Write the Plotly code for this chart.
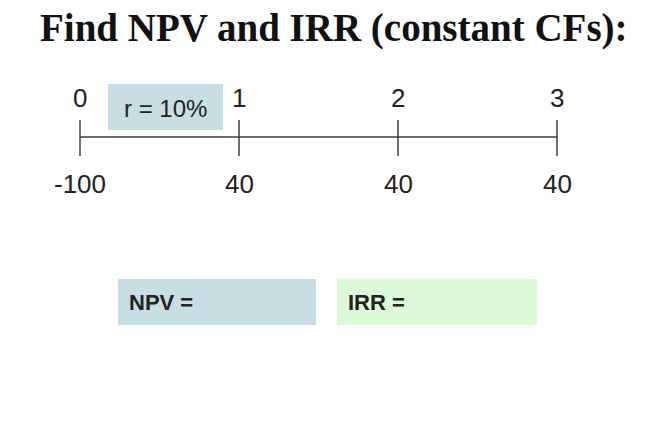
import plotly.graph_objects as go

periods = [0, 1, 2, 3]
cash_flows = [-100, 40, 40, 40]
rate_label = "r = 10%"
title = "Find NPV and IRR (constant CFs):"

W, H = 662, 434
x0px, step = 80, 159
OFF = 8
def px(v):  # pixel -> data x
    return (v - x0px) / step

fig = go.Figure()
fig.add_trace(go.Scatter(x=[periods[0], periods[-1]], y=[137, 137], mode="lines",
                         line=dict(color="#404040", width=1.5), hoverinfo="skip"))
for p, cf in zip(periods, cash_flows):
    fig.add_shape(type="line", x0=p, x1=p, y0=120, y1=156, line=dict(color="#404040", width=1.5))
    fig.add_annotation(x=p, y=98, text=str(p), showarrow=False,
                       font=dict(family="Liberation Sans", size=26, color="#222"))
    fig.add_annotation(x=p, y=184, text=str(cf), showarrow=False,
                       font=dict(family="Liberation Sans", size=26, color="#222"))

fig.add_shape(type="rect", x0=px(108), x1=px(223), y0=84, y1=130, fillcolor="#c7dfe2",
              line=dict(width=0), layer="below")
fig.add_annotation(x=px(165), y=108, text=rate_label, showarrow=False,
                   font=dict(family="Liberation Sans", size=24, color="#222"))

fig.add_shape(type="rect", x0=px(118), x1=px(316), y0=279, y1=325, fillcolor="#c7dfe2",
              line=dict(width=0), layer="below")
fig.add_annotation(x=px(127), y=302, text="<b>NPV =</b>", showarrow=False, xanchor="left",
                   font=dict(family="Liberation Sans", size=22, color="#222"))
fig.add_shape(type="rect", x0=px(337), x1=px(537), y0=279, y1=325, fillcolor="#dcf9d8",
              line=dict(width=0), layer="below")
fig.add_annotation(x=px(346), y=302, text="<b>IRR =</b>", showarrow=False, xanchor="left",
                   font=dict(family="Liberation Sans", size=22, color="#222"))

fig.add_annotation(x=px(334), y=28, text="<b>" + title + "</b>", showarrow=False,
                   font=dict(family="Liberation Serif", size=39, color="#111"))

fig.update_layout(width=W, height=H, margin=dict(l=0, r=0, t=0, b=0),
                  paper_bgcolor="white", plot_bgcolor="white", showlegend=False,
                  xaxis=dict(range=[px(OFF), px(W + OFF)], visible=False, fixedrange=True),
                  yaxis=dict(range=[H + OFF, OFF], visible=False, fixedrange=True))
fig.write_html("out.html", config={"displayModeBar": False})
